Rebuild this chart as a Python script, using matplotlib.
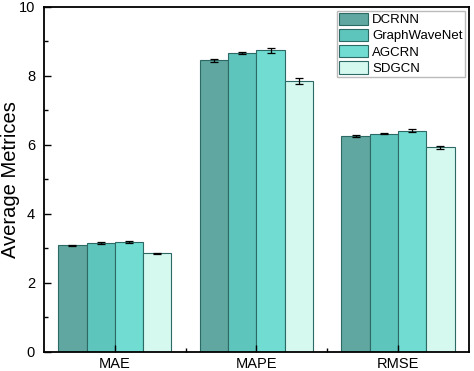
import numpy as np
import matplotlib
matplotlib.use('Agg')
from matplotlib import pyplot as plt
from matplotlib.ticker import MultipleLocator, FixedLocator

plt.rcParams['font.family'] = ['Liberation Sans', 'DejaVu Sans']

metrics = ['MAE', 'MAPE', 'RMSE']
models = ['DCRNN', 'GraphWaveNet', 'AGCRN', 'SDGCN']
values = {
    'DCRNN': [3.08, 8.45, 6.25],
    'GraphWaveNet': [3.15, 8.67, 6.32],
    'AGCRN': [3.19, 8.74, 6.41],
    'SDGCN': [2.85, 7.85, 5.92],
}
errors = {
    'DCRNN': [0.02, 0.04, 0.03],
    'GraphWaveNet': [0.02, 0.03, 0.02],
    'AGCRN': [0.03, 0.07, 0.05],
    'SDGCN': [0.02, 0.09, 0.04],
}
colors = ['#5fa7a0', '#5ec5bd', '#70dcd2', '#d5f8ef']

fig, ax = plt.subplots(figsize=(4.74, 3.71), dpi=100)
fig.subplots_adjust(left=0.093, right=0.989, bottom=0.052, top=0.982)

x = np.arange(1, len(metrics) + 1)
width = 0.2
for i, m in enumerate(models):
    ax.bar(x + (i - 1.5) * width, values[m], width, yerr=errors[m], color=colors[i],
           edgecolor='#2e6a65', linewidth=0.8, label=m,
           error_kw={'elinewidth': 0.9, 'capsize': 3, 'capthick': 0.9, 'ecolor': 'black'})

ax.set_xlim(0.5, 3.5)
ax.set_ylim(0, 10)
ax.set_xticks(x)
ax.set_xticklabels(metrics)
ax.xaxis.set_minor_locator(FixedLocator([1.5, 2.5]))
ax.yaxis.set_major_locator(MultipleLocator(2))
ax.yaxis.set_minor_locator(MultipleLocator(1))
ax.tick_params(axis='both', which='both', direction='in', labelsize=10.5)
ax.tick_params(axis='both', which='major', length=5, width=1)
ax.tick_params(axis='y', which='major', pad=6.5)
ax.tick_params(axis='x', which='major', pad=4)
ax.tick_params(axis='both', which='minor', length=3, width=1)
ax.set_ylabel('Average Metrices', fontsize=14.5)
ax.yaxis.set_label_coords(-0.057, 0.5)
for s in ax.spines.values():
    s.set_linewidth(1.3)

ax.legend(loc='upper right', fontsize=9.5, frameon=True, fancybox=False, edgecolor='#aaaaaa',
          handlelength=2.2, handleheight=1.05, handletextpad=0.3, labelspacing=0.2,
          borderpad=0.15, borderaxespad=0.3)

fig.savefig('out.png')
